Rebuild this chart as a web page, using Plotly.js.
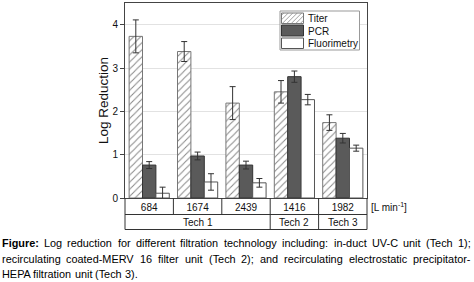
<!DOCTYPE html>
<html><head><meta charset="utf-8">
<script src="https://cdn.plot.ly/plotly-3.0.1.min.js"></script>
<style>html,body{margin:0;padding:0;background:#fff}#chart{width:474px;height:282px}</style>
</head><body><div id="chart"></div>
<script>
// ---- data ----
const flowRates = ['684', '1674', '2439', '1416', '1982'];
const techGroups = ['Tech 1', 'Tech 1', 'Tech 1', 'Tech 2', 'Tech 3'];
const seriesNames = ['Titer', 'PCR', 'Fluorimetry'];
const titer = [3.73, 3.38, 2.19, 2.45, 1.74];
const titerErr = [0.38, 0.23, 0.38, 0.26, 0.18];
const pcr = [0.76, 0.97, 0.76, 2.80, 1.38];
const pcrErr = [0.08, 0.09, 0.09, 0.13, 0.11];
const fluor = [0.11, 0.37, 0.35, 2.27, 1.15];
const fluorErr = [0.14, 0.19, 0.10, 0.12, 0.07];
const unitLabel = '[L min<sup>-1</sup>]';
const yTitle = 'Log Reduction';
const captionLines = [
  [['Figure:', true], 'Log', 'reduction', 'for', 'different', 'filtration', 'technology', 'including:', 'in-duct', 'UV-C', 'unit', '(Tech', '1);'],
  ['recirculating', 'coated-MERV', '16', 'filter', 'unit', '(Tech', '2);', 'and', 'recirculating', 'electrostatic', 'precipitator-'],
  ['HEPA', 'filtration', 'unit', '(Tech', '3).']
];

// ---- layout geometry ----
const W = 474, H = 282;
const M = {l: 125, r: 107, t: 3, b: 84};
const PW = W - M.l - M.r, PH = H - M.t - M.b;
const FONT = 'Liberation Sans, Arial, sans-serif';
const px2x = px => (px - M.l) / PW;
const px2y = py => (H - M.b - py) / PH;

const errStyle = {type: 'data', thickness: 1, width: 3, color: '#333'};
const styles = [
  {color: 'white', line: {color: '#777', width: 1},
   pattern: {shape: '/', fgcolor: '#888', bgcolor: 'white', size: 5, solidity: 0.2}},
  {color: '#5a5a5a', line: {color: '#333', width: 1}},
  {color: 'white', line: {color: '#555', width: 1}}
];
const values = [titer, pcr, fluor];
const errors = [titerErr, pcrErr, fluorErr];
const traces = seriesNames.map((n, k) => ({
  type: 'bar', name: n, x: flowRates, y: values[k],
  error_y: Object.assign({array: errors[k]}, errStyle),
  marker: styles[k]
}));

// table lines
const lineC = {color: '#333', width: 1};
const rowBottom1 = px2y(214.5), rowBottom2 = px2y(229.5);
const shapes = [
  {type: 'line', xref: 'paper', yref: 'paper', x0: 0, x1: 0, y0: 0, y1: rowBottom2, line: lineC},
  {type: 'line', xref: 'paper', yref: 'paper', x0: 1, x1: 1, y0: 0, y1: rowBottom2, line: lineC},
  {type: 'line', xref: 'paper', yref: 'paper', x0: 0, x1: 1, y0: rowBottom1, y1: rowBottom1, line: lineC},
  {type: 'line', xref: 'paper', yref: 'paper', x0: 0, x1: 1, y0: rowBottom2, y1: rowBottom2, line: lineC}
];
for (let i = 0; i < flowRates.length - 1; i++) {
  shapes.push({type: 'line', xref: 'x', yref: 'paper', x0: i + 0.5, x1: i + 0.5, y0: 0, y1: rowBottom1, line: lineC});
  if (techGroups[i] !== techGroups[i + 1]) {
    shapes.push({type: 'line', xref: 'x', yref: 'paper', x0: i + 0.5, x1: i + 0.5, y0: rowBottom1, y1: rowBottom2, line: lineC});
  }
}

const annotations = [];

// ---- custom legend (compact, like the reference) ----
const LG = {x0: 280, x1: 359.5, y0: 11, y1: 50};
shapes.push({type: 'rect', xref: 'paper', yref: 'paper', x0: px2x(LG.x0), x1: px2x(LG.x1), y0: px2y(LG.y0), y1: px2y(LG.y1),
             line: {color: '#999', width: 1}, fillcolor: 'white', layer: 'above'});
const swRows = [[13, 23.5], [25, 36], [38, 48.5]];
const swX = [281.5, 303.5];
seriesNames.forEach((n, k) => {
  const [ya, yb] = swRows[k];
  shapes.push({type: 'rect', xref: 'paper', yref: 'paper', x0: px2x(swX[0]), x1: px2x(swX[1]), y0: px2y(ya), y1: px2y(yb),
               line: {color: styles[k].line.color, width: 1}, fillcolor: styles[k].color, layer: 'above'});
  if (styles[k].pattern) {
    // hatch lines '/' clipped to the swatch
    const step = 4.5;
    for (let c = swX[0] + ya + step / 2; c < swX[1] + yb; c += step) {
      const xa = Math.max(swX[0], c - yb), xb = Math.min(swX[1], c - ya);
      if (xb - xa < 0.5) continue;
      shapes.push({type: 'line', xref: 'paper', yref: 'paper', x0: px2x(xa), y0: px2y(c - xa), x1: px2x(xb), y1: px2y(c - xb),
                   line: {color: '#888', width: 0.8}, layer: 'above'});
    }
  }
  annotations.push({xref: 'paper', yref: 'paper', x: px2x(306.5), y: px2y((ya + yb) / 2 + 0.5), text: n, showarrow: false,
    xanchor: 'left', yanchor: 'middle', borderpad: 0, font: {size: 10, color: '#111', family: FONT}});
});

// tech group labels
const groups = [];
techGroups.forEach((g, i) => {
  const last = groups[groups.length - 1];
  if (last && last.name === g) last.idx.push(i); else groups.push({name: g, idx: [i]});
});
groups.forEach(g => {
  const mid = (g.idx[0] + g.idx[g.idx.length - 1]) / 2;
  annotations.push({xref: 'x', yref: 'paper', x: mid, y: px2y(222), text: g.name, showarrow: false,
    xanchor: 'center', yanchor: 'middle', font: {size: 10, color: '#111', family: FONT}});
});
annotations.push({xref: 'paper', yref: 'paper', x: px2x(370), y: px2y(206.5), text: unitLabel, showarrow: false,
  xanchor: 'left', yanchor: 'middle', borderpad: 0, font: {size: 10, color: '#111', family: FONT}});

// caption, justified using measured word widths
const CAP = 10.9;
const cv = document.createElement('canvas').getContext('2d');
function wordWidth(w, bold) { cv.font = (bold ? 'bold ' : '') + CAP + 'px ' + FONT; return cv.measureText(w).width; }
const capLeft = 1.5, capRight = 471;
const capY = [243, 258.5, 273.5];
captionLines.forEach((line, li) => {
  const words = line.map(w => Array.isArray(w) ? {t: w[0], b: w[1]} : {t: w, b: false});
  const widths = words.map(w => wordWidth(w.t, w.b));
  const total = widths.reduce((a, b) => a + b, 0);
  const justify = li < captionLines.length - 1;
  const gap = justify ? (capRight - capLeft - total) / (words.length - 1) : wordWidth(' ', false);
  let xpos = capLeft;
  words.forEach((w, wi) => {
    annotations.push({xref: 'paper', yref: 'paper', x: px2x(xpos), y: px2y(capY[li]),
      text: w.b ? '<b>' + w.t + '</b>' : w.t, showarrow: false, xanchor: 'left', yanchor: 'middle',
      borderpad: 0, borderwidth: 0, font: {size: CAP, color: '#000', family: FONT}});
    xpos += widths[wi] + gap;
  });
});

const layout = {
  width: W, height: H,
  margin: M,
  paper_bgcolor: 'white', plot_bgcolor: 'white',
  font: {family: FONT, size: 10, color: '#111'},
  barmode: 'group', bargap: 0.17, bargroupgap: 0,
  showlegend: false,
  xaxis: {type: 'category', showline: true, linecolor: '#444', linewidth: 1, mirror: true,
          ticks: '', showgrid: false, tickfont: {size: 10, family: FONT, color: '#111'}, fixedrange: true},
  yaxis: {range: [0, 4.5], dtick: 1, tick0: 0, ticks: 'outside', ticklen: 4, tickcolor: '#444',
          showline: true, linecolor: '#444', linewidth: 1, mirror: true,
          showgrid: true, gridcolor: '#e2e2e2', zeroline: false,
          tickfont: {size: 10, family: FONT, color: '#111'},
          title: {text: yTitle, font: {size: 13.5, family: FONT, color: '#111'}, standoff: 0}},
  yaxis2: {overlaying: 'y', side: 'right', anchor: 'x', matches: 'y', range: [0, 4.5], dtick: 1,
           ticks: 'inside', ticklen: 4, tickcolor: '#444', showticklabels: false, showgrid: false,
           showline: false, zeroline: false},
  shapes: shapes,
  annotations: annotations
};

Plotly.newPlot('chart', traces, layout, {displayModeBar: false, staticPlot: true});
</script>
</body></html>
